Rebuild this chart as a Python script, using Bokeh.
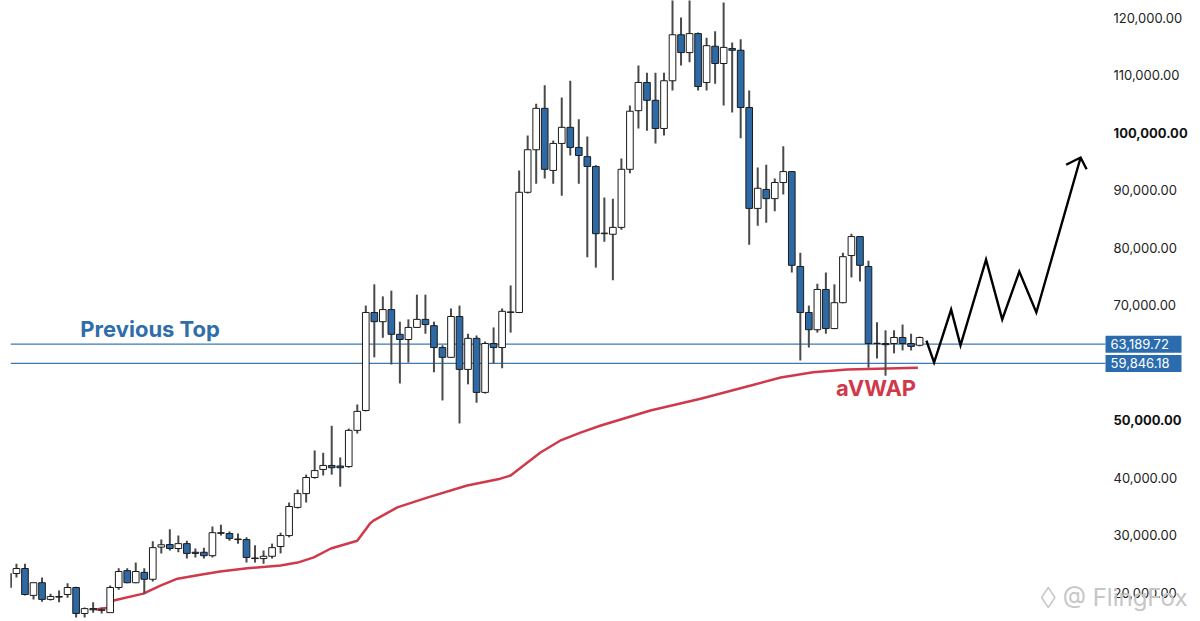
import numpy as np
from bokeh.plotting import figure
from bokeh.models import Range1d, Label, FixedTicker, NumeralTickFormatter, ColumnDataSource
from bokeh.embed import file_html
from bokeh.resources import INLINE

# ---------------- data (weekly candles, USD) ----------------
week = list(range(-1, 107))
opens = [20870, 23300, 24170, 19500, 21700, 18800, 19200, 19650, 20870, 16350, 17200, 16900,
         16500, 20870, 23800, 21700, 23500, 22300, 27900, 28350, 27650, 28500, 27000, 27000,
         26400, 30400, 30260, 29300, 29200, 26000, 25900, 26300, 28000, 29900, 34800, 37200,
         40000, 41400, 42100, 42000, 41900, 48200, 51650, 68700, 67100, 69200, 64900, 64000,
         66100, 67500, 66400, 62600, 60900, 68000, 58800, 64200, 54800, 63300, 62600, 68700,
         68700, 89600, 97000, 104200, 93400, 98100, 100900, 97400, 95800, 94100, 82400, 82300,
         83500, 93600, 103800, 108700, 105600, 100700, 109000, 117000, 113900, 117200, 108700, 115000,
         112000, 114600, 114300, 104350, 86800, 90100, 88500, 91300, 93200, 76700, 68700, 65700,
         72700, 65900, 70400, 78600, 81900, 76700, 63300, 63300, 63300, 64350, 63300, 63000]
highs = [23300, 25000, 25000, 21700, 22600, 19800, 20350, 21600, 21000, 17400, 18300, 17400,
         21200, 24200, 24200, 25200, 24200, 28900, 29200, 31000, 29900, 29000, 27650, 27800,
         31500, 31800, 30600, 30260, 29600, 28200, 27300, 28500, 30400, 35650, 37900, 40500,
         44700, 44300, 49000, 43500, 48500, 52700, 69900, 73600, 71500, 72500, 67100, 67500,
         71800, 71800, 67100, 63000, 69400, 69900, 65000, 64700, 63650, 66100, 69400, 73400,
         93400, 99500, 105000, 108200, 98600, 106100, 109000, 102300, 99300, 94300, 88700, 88500,
         95500, 104700, 111650, 110400, 110400, 110400, 123200, 120000, 123500, 117400, 116500, 117600,
         122600, 115650, 116200, 107300, 93900, 94400, 92000, 97600, 93300, 79100, 69900, 73700,
         75650, 73600, 79100, 82400, 82000, 77700, 67000, 65600, 65600, 66600, 65000, 64500]
lows = [20870, 22600, 19500, 18800, 18400, 18600, 18300, 19100, 15650, 15650, 16500, 16350,
        16500, 20500, 21600, 21600, 19800, 21900, 26800, 27300, 27000, 25900, 26100, 25900,
        26100, 29900, 29000, 28500, 25200, 25200, 25000, 25900, 26800, 29600, 34600, 35650,
        39800, 40350, 40500, 38400, 41700, 47650, 51500, 60900, 64300, 59650, 56350, 60000,
        66000, 65000, 58300, 53400, 60800, 49400, 56200, 53000, 54600, 59800, 59000, 65200,
        68600, 89400, 91100, 92000, 91100, 89000, 96000, 91100, 78300, 76500, 81000, 74300,
        83100, 92900, 100700, 100300, 98100, 99500, 107300, 111650, 112200, 107300, 107300, 108500,
        104700, 103500, 99000, 80500, 83800, 84300, 86300, 89200, 75650, 60350, 62600, 65200,
        65000, 65800, 70300, 74800, 74100, 59100, 60700, 57700, 61600, 62100, 62100, 62800]
closes = [23300, 24170, 19650, 21700, 18800, 19300, 19300, 20870, 16350, 17200, 17000, 17000,
          20870, 23650, 21700, 23650, 22300, 27800, 28300, 27650, 28500, 26800, 26800, 26400,
          30400, 30300, 29400, 29200, 26100, 25900, 26300, 27800, 29900, 34960, 37200, 40000,
          41200, 42100, 41700, 41700, 48200, 51500, 68700, 67100, 69200, 64900, 64000, 66100,
          67500, 66600, 62600, 60900, 68000, 58800, 64200, 54800, 63300, 62600, 68900, 68800,
          89600, 97000, 104200, 93600, 98100, 100900, 97400, 96000, 94100, 82400, 82500, 83500,
          93600, 103700, 108700, 105600, 100700, 109000, 117000, 113900, 117200, 108000, 115100, 112000,
          114800, 114300, 104350, 86800, 90300, 88500, 91300, 93200, 76900, 68700, 65700, 72700,
          65900, 70400, 78400, 81900, 76900, 63300, 63350, 63100, 64350, 63300, 62800, 64350]

# anchored VWAP, read at points along the curve (week index, USD)
vwap_week = [9.3, 11.0, 11.4, 14.9, 16.9, 18.9, 21.6, 23.9, 27.1, 31.0, 33.0, 34.9, 36.9,
             40.0, 41.5, 41.9, 44.7, 48.2, 52.9, 56.8, 58.0, 61.5, 63.8, 66.2, 68.5, 74.4,
             80.3, 86.2, 89.7, 93.5, 97.5, 105.8]
vwap_price = [17040, 17400, 18600, 19800, 21200, 22400, 23100, 23650, 24200, 24700, 25200,
              26100, 27650, 29000, 32000, 32500, 34800, 36500, 38600, 39800, 40350, 44350,
              46400, 47800, 49000, 51650, 53700, 56000, 57400, 58300, 58800, 59100]

# key levels
levels = [63189.72, 59846.18]
level_texts = ["63,189.72", "59,846.18"]

# projected path (hand-drawn arrow)
proj_week = [106.8, 107.7, 109.7, 110.8, 113.8, 115.7, 117.7, 119.7, 124.9]
proj_price = [63800, 60000, 69200, 63000, 77900, 67500, 75800, 68700, 95650]
head_week = [123.2, 124.9, 125.6]
head_price = [94400, 95650, 93600]

# price-scale ticks (60,000 sits under the 59,846.18 tag, so it is not shown)
tick_values = [20000, 30000, 40000, 70000, 80000, 90000, 110000, 120000]
bold_ticks = [50000, 100000]
bold_tick_texts = ["50,000.00", "100,000.00"]

# ---------------- figure ----------------
BLUE = "#2d6aa5"
LINE_BLUE = "#3d7ab4"
TAG_BLUE = "#2b6cae"
RED = "#d0394b"
X0, X1 = -0.7, 137.56          # week-index span of the frame
LABEL_X = 128.76               # where the price scale text starts (week units)
TAG_LEFT = 127.82              # left edge of the price tags (week units)
TAG_CENTER = 132.28

p = figure(width=1200, height=621, output_backend="svg", toolbar_location=None,
           x_range=Range1d(X0, X1), y_range=Range1d(14957, 122957),
           x_axis_location=None, y_axis_location="right",
           min_border_left=10, min_border_right=12, min_border_top=0, min_border_bottom=0)
p.background_fill_color = "white"
p.border_fill_color = "white"
p.outline_line_color = None
p.grid.visible = False

ax = p.yaxis[0]
ax.ticker = FixedTicker(ticks=tick_values)
ax.formatter = NumeralTickFormatter(format="0,0.00")
ax.axis_line_color = None
ax.major_tick_line_color = None
ax.minor_tick_line_color = None
ax.major_tick_out = 0
ax.major_tick_in = 0
ax.major_label_standoff = -75
ax.major_label_text_font = "Inter"
ax.major_label_text_font_size = "13px"
ax.major_label_text_color = "#222222"

o = np.array(opens, dtype=float)
c = np.array(closes, dtype=float)
src = ColumnDataSource(dict(
    x=week, o=o, c=c, h=highs, l=lows,
    top=np.maximum(o, c), bottom=np.minimum(o, c),
    fill=[("white" if cc >= oo else BLUE) for oo, cc in zip(o, c)],
))

# level lines (end where the price tags begin)
p.segment(x0=[X0] * len(levels), y0=levels, x1=[TAG_LEFT] * len(levels), y1=levels,
          line_color=LINE_BLUE, line_width=1.2)

# price tag boxes
p.rect(x=[TAG_CENTER] * len(levels), y=levels, width=76, height=17,
       width_units="screen", height_units="screen", fill_color=TAG_BLUE, line_color=None)

# aVWAP
p.line(vwap_week, vwap_price, line_color=RED, line_width=2.5)

# candles
p.segment(x0="x", y0="l", x1="x", y1="h", source=src, line_color="#4a4a4a", line_width=2)
p.vbar(x="x", width=0.78, top="top", bottom="bottom", source=src,
       fill_color="fill", line_color="#1c1c1c", line_width=1)

# projection arrow
p.line(proj_week, proj_price, line_color="black", line_width=2.4, line_join="miter")
p.line(head_week, head_price, line_color="black", line_width=2.4, line_join="miter")

# texts
p.add_layout(Label(x=7.5, y=65740, text="Previous Top", text_font="Inter", text_font_style="bold",
                   text_font_size="22px", text_color="#2f6ea8", text_baseline="middle"))
p.add_layout(Label(x=96.2, y=55650, text="aVWAP", text_font="Inter", text_font_style="bold",
                   text_font_size="22px", text_color=RED, text_baseline="middle"))

# bold tick labels
for tv, tt in zip(bold_ticks, bold_tick_texts):
    p.add_layout(Label(x=LABEL_X, y=tv, text=tt, text_font="Inter", text_font_style="bold",
                       text_font_size="13px", text_color="#111111", text_baseline="middle"))

# price tag texts
for lv, tt in zip(levels, level_texts):
    p.add_layout(Label(x=LABEL_X - 0.35, y=lv, text=tt, text_font="Inter", text_font_size="13px",
                       text_color="white", text_baseline="middle"))

# watermark
p.scatter([121.1], [19130], marker="diamond", size=20, fill_color=None,
          line_color="#c8c8c8", line_width=1.5)
p.add_layout(Label(x=122.8, y=19130, text="@ FlingFox", text_font="Inter",
                   text_font_size="24px", text_color="#c6c6c6", text_baseline="middle"))

open("out.html", "w").write(file_html(p, INLINE))
